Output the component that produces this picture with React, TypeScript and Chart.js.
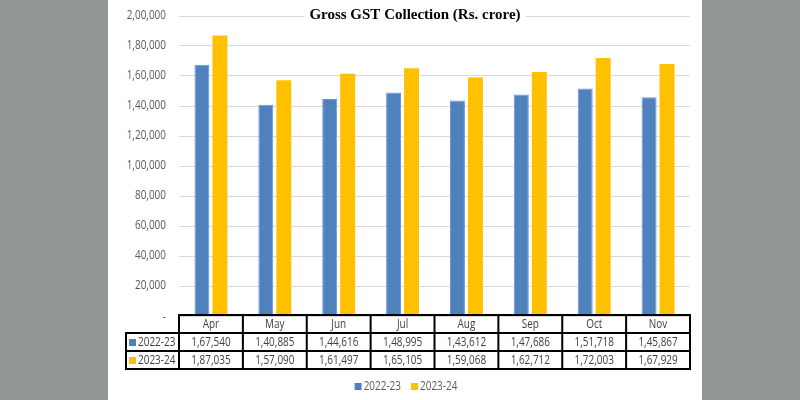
import React, { useEffect, useRef } from "react";
import { Chart, registerables } from "chart.js";

Chart.register(...registerables);

const months = ["Apr", "May", "Jun", "Jul", "Aug", "Sep", "Oct", "Nov"];
const fy2223 = [167540, 140885, 144616, 148995, 143612, 147686, 151718, 145867];
const fy2324 = [187035, 157090, 161497, 165105, 159068, 162712, 172003, 167929];
const seriesNames = ["2022-23", "2023-24"];
const chartTitle = "Gross GST Collection (Rs. crore)";

const BLUE = "#4f81bd";
const BLUE_EDGE = "#6b96cf";
const GOLD = "#ffc000";
const SIDE_GREY = "#939696";
const TEXT_GREY = "#595959";
const TABLE_TEXT = "#404040";
const SANS = "'Open Sans', 'Liberation Sans', Arial, sans-serif";
const SERIF = "'Liberation Serif', 'Times New Roman', serif";
const NARROW = 0.83; // horizontal squeeze for a condensed look

// Indian digit grouping: 1,67,540 / 2,00,000
function formatIN(n: number): string {
  const s = Math.round(n).toString();
  if (s.length <= 3) return s;
  const last3 = s.slice(-3);
  let rest = s.slice(0, -3);
  const parts: string[] = [];
  while (rest.length > 2) {
    parts.unshift(rest.slice(-2));
    rest = rest.slice(0, -2);
  }
  if (rest.length) parts.unshift(rest);
  return parts.join(",") + "," + last3;
}

function narrowText(
  ctx: CanvasRenderingContext2D,
  text: string,
  x: number,
  y: number,
  align: CanvasTextAlign,
  color: string
) {
  ctx.save();
  ctx.translate(x, y);
  ctx.scale(NARROW, 1);
  ctx.textAlign = align;
  ctx.textBaseline = "middle";
  ctx.fillStyle = color;
  ctx.fillText(text, 0, 0);
  ctx.restore();
}

const pagePlugin = {
  id: "pageDecor",
  beforeDraw(chart: any) {
    const { ctx, width, height } = chart;
    ctx.save();
    ctx.fillStyle = "#ffffff";
    ctx.fillRect(0, 0, width, height);
    ctx.fillStyle = SIDE_GREY;
    ctx.fillRect(0, 0, 108, height);
    ctx.fillRect(702, 0, width - 702, height);
    ctx.restore();
  },
  afterDraw(chart: any) {
    const { ctx, chartArea } = chart;
    const x = chart.scales.x;
    const y = chart.scales.y;
    const left = chartArea.left;
    const right = chartArea.right;
    const colW = (right - left) / months.length;
    const top = chartArea.bottom - 1;
    const rowH = 18;
    const labelLeft = 126;

    ctx.save();
    // y-axis labels
    ctx.font = `12px ${SANS}`;
    y.ticks.forEach((t: any) => {
      const v = Number(t.value);
      const py = y.getPixelForValue(v) + (v === 0 ? 2 : 0);
      narrowText(ctx, v === 0 ? "-" : formatIN(v), left - 13, py, "right", TEXT_GREY);
    });

    // title with a white backing over the top gridline
    ctx.font = `bold 15px ${SERIF}`;
    const tw = ctx.measureText(chartTitle).width;
    const tcx = 415;
    ctx.fillStyle = "#ffffff";
    ctx.fillRect(tcx - tw / 2 - 5, 4, tw + 10, 22);
    ctx.fillStyle = "#000000";
    ctx.textAlign = "center";
    ctx.textBaseline = "middle";
    ctx.fillText(chartTitle, tcx, 15);

    // data table
    ctx.strokeStyle = "#000000";
    ctx.lineWidth = 2;
    ctx.beginPath();
    ctx.rect(left, top, right - left, rowH);
    ctx.rect(labelLeft, top + rowH, right - labelLeft, rowH * 2);
    ctx.moveTo(labelLeft, top + rowH * 2);
    ctx.lineTo(right, top + rowH * 2);
    for (let i = 0; i <= months.length; i++) {
      const cx = left + i * colW;
      ctx.moveTo(cx, top);
      ctx.lineTo(cx, top + rowH * 3);
    }
    ctx.stroke();

    ctx.font = `12px ${SANS}`;
    months.forEach((m, i) => {
      const cx = x.getPixelForValue(i);
      narrowText(ctx, m, cx, top + rowH / 2 + 1, "center", TABLE_TEXT);
      narrowText(ctx, formatIN(fy2223[i]), cx, top + rowH * 1.5 + 1, "center", TABLE_TEXT);
      narrowText(ctx, formatIN(fy2324[i]), cx, top + rowH * 2.5 + 1, "center", TABLE_TEXT);
    });
    // row headers with colour keys
    [BLUE, GOLD].forEach((c, k) => {
      const cy = top + rowH * (1.5 + k);
      ctx.fillStyle = c;
      ctx.fillRect(labelLeft + 3, cy - 3, 7, 7);
      narrowText(ctx, seriesNames[k], labelLeft + 12, cy + 1, "left", TABLE_TEXT);
    });

    // legend
    const gap = 10;
    const items = seriesNames.map((n) => ctx.measureText(n).width * NARROW + 9);
    const total = items[0] + items[1] + gap;
    let lx = 406 - total / 2;
    const ly = 386;
    [BLUE, GOLD].forEach((c, k) => {
      ctx.fillStyle = c;
      ctx.fillRect(lx, ly - 3, 7, 7);
      narrowText(ctx, seriesNames[k], lx + 9, ly + 1, "left", TEXT_GREY);
      lx += items[k] + gap;
    });
    ctx.restore();
  },
};

export default function App() {
  const ref = useRef<HTMLCanvasElement | null>(null);

  useEffect(() => {
    if (!ref.current) return;
    const chart = new Chart(ref.current, {
      type: "bar",
      data: {
        labels: months,
        datasets: [
          {
            label: seriesNames[0],
            data: fy2223,
            backgroundColor: BLUE,
            borderColor: BLUE_EDGE,
            borderWidth: 1,
            categoryPercentage: 0.5625,
            barPercentage: 0.833,
          },
          {
            label: seriesNames[1],
            data: fy2324,
            backgroundColor: GOLD,
            borderColor: GOLD,
            borderWidth: 0,
            categoryPercentage: 0.5625,
            barPercentage: 0.833,
          },
        ],
      },
      options: {
        responsive: false,
        animation: false,
        layout: { padding: { left: 108, right: 110, top: 16, bottom: 84 } },
        plugins: {
          legend: { display: false },
          title: { display: false },
          tooltip: { enabled: false },
        },
        scales: {
          x: { display: false },
          y: {
            min: 0,
            max: 200000,
            afterFit(scale: any) {
              scale.width = 71;
            },
            border: { display: false },
            grid: { color: "#d9d9d9", lineWidth: 1, drawTicks: false },
            ticks: { stepSize: 20000, display: false },
          },
        },
      },
      plugins: [pagePlugin],
    });
    return () => chart.destroy();
  }, []);

  return (
    <div style={{ position: "fixed", left: 0, top: 0, width: 800, height: 400 }}>
      <canvas ref={ref} width={800} height={400} style={{ display: "block" }} />
    </div>
  );
}
